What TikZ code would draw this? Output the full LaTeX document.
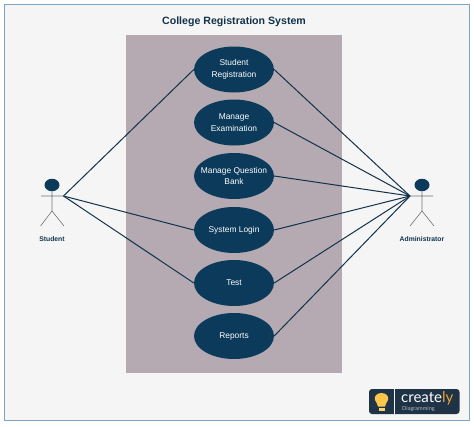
\documentclass[tikz,border=0pt]{standalone}
\usepackage{fontspec}
\setmainfont{Liberation Sans}
\newfontfamily\logofont{Lato}
\definecolor{navy}{HTML}{0B3A5A}
\definecolor{panel}{HTML}{B5AAB2}
\definecolor{framec}{HTML}{7FA3C0}
\definecolor{paper}{HTML}{F6F5F5}
\definecolor{linec}{HTML}{12324A}
\definecolor{stick}{HTML}{6F7478}
\definecolor{logobg}{HTML}{1F3347}
\definecolor{amber}{HTML}{F0A030}
\definecolor{bulb}{HTML}{FBC64B}
\usetikzlibrary{shapes.geometric}
\tikzset{
  usecase/.style={ellipse,fill=navy,draw=none,minimum width=80pt,minimum height=46pt,inner xsep=-14pt,inner ysep=0pt,align=center,text=white,font=\fontsize{8.4}{11.5}\selectfont},
  actorlabel/.style={font=\fontsize{6.8}{8}\selectfont\bfseries,text=linec,inner sep=0pt},
  link/.style={draw=linec,line width=1pt},
  stickline/.style={draw=stick,line width=0.6pt},
  headshape/.style={ellipse,fill=navy,minimum width=15pt,minimum height=12.5pt,inner sep=0pt}
}
\begin{document}
\begin{tikzpicture}[x=1pt,y=-1pt]
\useasboundingbox (0,0) rectangle (474,426);
\fill[white] (0,0) rectangle (474,426);
\draw[framec,fill=paper,line width=0.9pt] (4.5,4.5) rectangle (469.5,420.5);
\node[font=\fontsize{10.6}{13}\selectfont\bfseries,text=linec,inner sep=0pt] (title) at (234,22) {College Registration System};
\fill[panel] (126,35) rectangle (342,373);
\node[usecase] (reg) at (234,69.5) {Student\\Registration};
\node[usecase] (exam) at (234,122.5) {Manage\\Examination};
\node[usecase] (bank) at (234,176) {Manage Question\\Bank};
\node[usecase] (login) at (234,230) {System Login};
\node[usecase] (test) at (234,283) {Test};
\node[usecase] (reports) at (234,336) {Reports};
% student
\node[headshape] (shead) at (52,185) {};
\coordinate (ship) at (52,211);
\coordinate (sl) at (41,196);
\coordinate (sr) at (63.5,196);
\coordinate (slf) at (40.5,226);
\coordinate (srf) at (64,226);
\draw[stickline] (shead.south) -- (ship) (sl) -- (sr) (slf) -- (ship) -- (srf);
\node[actorlabel] (slabel) at (52,239.5) {Student};
% administrator
\node[headshape] (ahead) at (422,185) {};
\coordinate (ahip) at (422,211);
\coordinate (al) at (410,196);
\coordinate (ar) at (433,196);
\coordinate (alf) at (410,226);
\coordinate (arf) at (434,226);
\draw[stickline] (ahead.south) -- (ahip) (al) -- (ar) (alf) -- (ahip) -- (arf);
\node[actorlabel] (alabel) at (422,239.5) {Administrator};
% links
\draw[link] (sr) -- (reg.west);
\draw[link] (sr) -- (login.west);
\draw[link] (sr) -- (test.west);
\foreach \u in {reg,exam,bank,login,test,reports} \draw[link] (al) -- (\u.east);
% logo
\fill[logobg,rounded corners=3pt] (369,389) rectangle (459.5,414);
\draw[paper,line width=0.7pt] (394.5,389) -- (394.5,414);
\fill[bulb] (381.5,393) .. controls (386.5,393) and (389,396.5) .. (388,400) .. controls (387.4,402.5) and (385,403.5) .. (385,406.5) -- (378,406.5) .. controls (378,403.5) and (375.6,402.5) .. (375,400) .. controls (374,396.5) and (376.5,393) .. (381.5,393) -- cycle;
\fill[bulb!80!white] (378.5,407.5) rectangle (384.5,410.5);
\node[inner sep=0pt,anchor=west,font=\logofont\fontsize{15}{15}\selectfont,text=white] (logotext) at (401,398.5) {create\textcolor{amber}{ly}};
\node[inner sep=0pt,anchor=west,font=\logofont\fontsize{5.6}{6}\selectfont,text=white!65!logobg] (logosub) at (402,408.5) {Diagramming};
\end{tikzpicture}
\end{document}
